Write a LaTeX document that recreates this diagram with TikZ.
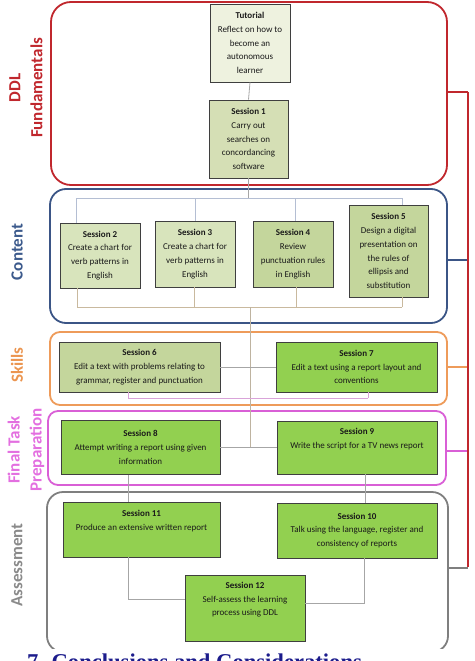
\documentclass[tikz,border=0pt]{standalone}
\usepackage{fontspec}
\setmainfont{Carlito}
\newfontfamily\serifbold{Liberation Serif}
\definecolor{ddlred}{HTML}{C0272D}
\definecolor{cblue}{HTML}{3B5586}
\definecolor{sorange}{HTML}{EE9B5A}
\definecolor{fpink}{HTML}{D95FD6}
\definecolor{agray}{HTML}{7F7F7F}
\definecolor{lblue}{HTML}{3C5A8C}
\definecolor{lorange}{HTML}{EB9550}
\definecolor{lpink}{HTML}{E36FE0}
\definecolor{lgray}{HTML}{8A8A8A}
\definecolor{boxline}{HTML}{3F3F3F}
\definecolor{txt}{HTML}{1A1A1A}
\definecolor{fTut}{HTML}{EEF2DF}
\definecolor{fSone}{HTML}{D5DFB5}
\definecolor{fLight}{HTML}{D8E4BC}
\definecolor{fMid}{HTML}{C4D69C}
\definecolor{fGreen}{HTML}{92D050}
\definecolor{cgray}{HTML}{A6A6A6}
\definecolor{cbluegray}{HTML}{B4BED3}
\definecolor{ctan}{HTML}{C9B99E}
\definecolor{cpink}{HTML}{D9A3D9}
\definecolor{titleblue}{HTML}{1C1C8C}
\begin{document}
\begin{tikzpicture}[x=1pt,y=-1pt,
  sbox/.style={draw=boxline, line width=0.8pt, text=txt, align=center,
    font=\fontsize{9}{13.8}\selectfont, inner sep=0pt},
  grp/.style={line width=1.8pt, inner sep=0pt, outer sep=0pt},
  conn/.style={line width=0.8pt, draw=cgray},
  lab/.style={rotate=90, align=center, inner sep=0pt,
    font=\bfseries\fontsize{17}{22}\selectfont}]
\useasboundingbox (0,0) rectangle (474,661);
\clip (0,0) rectangle (474,661);

% group boxes
\node[grp, draw=ddlred, rounded corners=20pt, minimum width=396pt, minimum height=183pt] (gD) at (249,93.5) {};
\node[grp, draw=cblue, rounded corners=16pt, minimum width=397pt, minimum height=134pt] (gC) at (248.5,256) {};
\node[grp, draw=sorange, rounded corners=10pt, minimum width=397pt, minimum height=73pt] (gS) at (248.5,368.5) {};
\node[grp, draw=fpink, rounded corners=10pt, minimum width=398pt, minimum height=74pt] (gF) at (247,448) {};
\node[grp, draw=agray, rounded corners=16pt, minimum width=401pt, minimum height=160pt] (gA) at (247.5,572) {};

% labels
\node[lab, text=ddlred] (lD) at (26,88) {DDL\\Fundamentals};
\node[lab, text=lblue] (lC) at (17,252) {Content};
\node[lab, text=lorange] (lS) at (17,365) {Skills};
\node[lab, text=lpink] (lF) at (26,450) {Final Task\\Preparation};
\node[lab, text=lgray] (lA) at (17,565) {Assessment};

% bracket on the right
\coordinate (br) at (468,0);
\draw[line width=1.6pt, draw=ddlred] ([yshift=1.5pt]gD.east) -- ([yshift=1.5pt]gD.east -| br);
\draw[line width=1.6pt, draw=cblue] ([yshift=-4pt]gC.east) -- ([yshift=-4pt]gC.east -| br);
\draw[line width=1.6pt, draw=sorange] ([yshift=1.5pt]gS.east) -- ([yshift=1.5pt]gS.east -| br);
\draw[line width=1.6pt, draw=fpink] ([yshift=-3pt]gF.east) -- ([yshift=-3pt]gF.east -| br);
\draw[line width=1.6pt, draw=agray] ([yshift=4pt]gA.east) -- ([yshift=4pt]gA.east -| br);
\draw[line width=1.6pt, draw=ddlred] ([yshift=1.5pt]gD.east -| br) -- ([yshift=4.8pt]gA.east -| br);

% sessions
\node[sbox, fill=fTut, minimum width=80pt, minimum height=78pt] (tut) at (250,43)
  {\textbf{Tutorial}\\Reflect on how to\\become an\\autonomous\\learner};
\node[sbox, fill=fSone, minimum width=79pt, minimum height=78pt] (s1) at (248.5,139)
  {\textbf{Session 1}\\Carry out\\searches on\\concordancing\\software};
\node[sbox, fill=fLight, minimum width=80pt, minimum height=65pt] (s2) at (100,255.5)
  {\textbf{Session 2}\\Create a chart for\\verb patterns in\\English};
\node[sbox, fill=fLight, minimum width=80pt, minimum height=66pt] (s3) at (195,254)
  {\textbf{Session 3}\\Create a chart for\\verb patterns in\\English};
\node[sbox, fill=fMid, minimum width=80pt, minimum height=66pt] (s4) at (293,254)
  {\textbf{Session 4}\\Review\\punctuation rules\\in English};
\node[sbox, fill=fMid, minimum width=79pt, minimum height=92pt] (s5) at (388.5,251)
  {\textbf{Session 5}\\Design a digital\\presentation on\\the rules of\\ellipsis and\\substitution};
\node[sbox, fill=fMid, minimum width=161pt, minimum height=50pt] (s6) at (139.5,367)
  {\textbf{Session 6}\\Edit a text with problems relating to\\grammar, register and punctuation};
\node[sbox, fill=fGreen, minimum width=161pt, minimum height=50pt] (s7) at (356.5,367)
  {\textbf{Session 7}\\Edit a text using a report layout and\\conventions};
\node[sbox, fill=fGreen, minimum width=159pt, minimum height=54pt] (s8) at (140.5,447.5)
  {\textbf{Session 8}\\Attempt writing a report using given\\information};
\node[sbox, fill=fGreen, minimum width=160pt, minimum height=53pt] (s9) at (357,447.5)
  {\textbf{Session 9}\\Write the script for a TV news report\\\strut};
\node[sbox, fill=fGreen, minimum width=157pt, minimum height=55pt] (s11) at (141.5,529.5)
  {\textbf{Session 11}\\Produce an extensive written report\\\strut};
\node[sbox, fill=fGreen, minimum width=160pt, minimum height=55pt] (s10) at (357,530.5)
  {\textbf{Session 10}\\Talk using the language, register and\\consistency of reports};
\node[sbox, fill=fGreen, minimum width=120pt, minimum height=66pt] (s12) at (245,608)
  {\textbf{Session 12}\\Self-assess the learning\\process using DDL\\\strut};

% connectors: DDL
\draw[conn] (tut.south) -- (s1.north);
\coordinate (ctop) at (0,198);
\coordinate (cbot) at (0,307);
\draw[conn] (s1.south) -- (s1.south |- ctop);
% content top
\draw[conn, draw=cbluegray] (76,198) -- (402,198);
\draw[conn, draw=cbluegray] (76,198) -- (76,0 |- s2.north);
\draw[conn, draw=cbluegray] (195,198) -- (195,0 |- s3.north);
\draw[conn, draw=cbluegray] (295,198) -- (295,0 |- s4.north);
\draw[conn, draw=cbluegray] (402,198) -- (402,0 |- s5.north);
% content bottom
\draw[conn, draw=ctan] (77,307) -- (402,307);
\draw[conn, draw=ctan] (77,307) -- (77,0 |- s2.south);
\draw[conn, draw=ctan] (194,307) -- (194,0 |- s3.south);
\draw[conn, draw=ctan] (296,307) -- (296,0 |- s4.south);
\draw[conn, draw=ctan] (402,307) -- (402,0 |- s5.south);
% central spine
\draw[conn, draw=ctan!70!cgray] (250,307) -- (250,447.5);
% skills
\draw[conn] (s6.east) -- (s7.west);
\draw[conn, draw=cpink] (128,398) -- (368,398);
\draw[conn, draw=cpink] (128,398) -- (128,0 |- s6.south);
\draw[conn, draw=cpink] (368,398) -- (368,0 |- s7.south);
% final task
\draw[conn] (s8.east) -- (s9.west);
\draw[conn] (128,0 |- s8.south) -- (128,0 |- s11.north);
\draw[conn] (365,0 |- s9.south) -- (365,0 |- s10.north);
% assessment
\draw[conn] (128,0 |- s11.south) |- (s12.west |- 0,599);
\draw[conn] (364,0 |- s10.south) |- (s12.east |- 0,603);

% page cut at the bottom
\fill[white] (0,648.5) rectangle (474,661);
\node[anchor=base west, inner sep=0pt, text=titleblue,
  font=\serifbold\bfseries\fontsize{22.6}{26}\selectfont] (title) at (27,669)
  {7. Conclusions and Considerations};
\end{tikzpicture}
\end{document}
